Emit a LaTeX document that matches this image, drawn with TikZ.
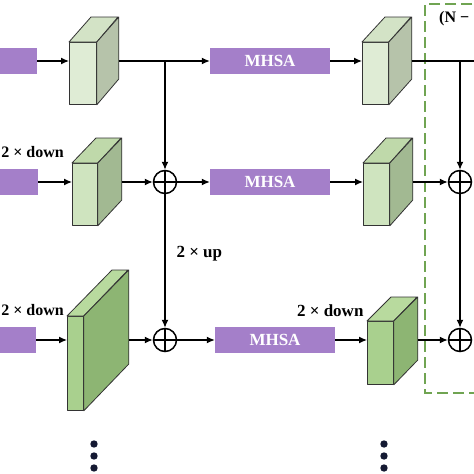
\documentclass[tikz,border=0pt]{standalone}
\usepackage{fontspec}
\setmainfont{Liberation Serif}
\usetikzlibrary{arrows.meta,calc}
\definecolor{mh}{HTML}{A47FC9}
\definecolor{af}{HTML}{DFECD5}\definecolor{at}{HTML}{D3E3C6}\definecolor{as}{HTML}{B6C3AA}
\definecolor{bf}{HTML}{CFE4BF}\definecolor{bt}{HTML}{BFD9AA}\definecolor{bs}{HTML}{A2B992}
\definecolor{cf}{HTML}{A9D08E}\definecolor{ct}{HTML}{B8DA9E}\definecolor{cs}{HTML}{8DB573}
\definecolor{dg}{HTML}{70A452}
\definecolor{dotc}{HTML}{151A33}
\tikzset{
 mhsa/.style={fill=mh, minimum width=120pt, minimum height=26pt, inner sep=0pt, text=white, font=\bfseries\fontsize{17}{19}\selectfont},
 arr/.style={line width=1.2pt, -{Latex[length=8pt,width=7pt]}},
 ln/.style={line width=1.2pt},
 opl/.style={circle, draw, line width=1.5pt, minimum size=23pt, inner sep=0pt,
   path picture={\draw[line width=1.5pt] (path picture bounding box.north) -- (path picture bounding box.south) (path picture bounding box.west) -- (path picture bounding box.east);}},
 lbl/.style={font=\bfseries\fontsize{17}{19}\selectfont},
 slbl/.style={font=\bfseries\fontsize{16}{18}\selectfont},
 face/.style={draw=black!80, line width=0.8pt, line join=round},
 dsh/.style={draw=dg, line width=1.3pt, dash pattern=on 11pt off 5pt},
}
% name, x1, y1, w, h, dx, dy, colour prefix, row y
\newcommand\cuboid[9]{%
 \node[face, fill=#8f, anchor=north west, minimum width=#4pt, minimum height=#5pt, inner sep=0pt] (#1) at (#2,#3) {};
 \draw[face, fill=#8t] (#1.north west) -- ++(#6,#7) -- ++(#4,0) -- (#1.north east) -- cycle;
 \draw[face, fill=#8s] (#1.north east) -- ++(#6,#7) -- ++(0,#5) -- (#1.south east) -- cycle;
 \path (#1.north east) ++(#6,0) coordinate (#1tmp);
 \coordinate (#1o) at (#1tmp |- 0,#9);
}
\begin{document}
\begin{tikzpicture}[x=1pt,y=-1pt]
\useasboundingbox (0,0) rectangle (474,474);
\clip (0,0) rectangle (474,474);
\fill[white] (0,0) rectangle (474,474);

% dashed frame
\draw[dsh] (504,4) -- (425,4) -- (425,393) -- (504,393);
\node[slbl, anchor=west, inner sep=1pt] (nlab) at (438,19) {(N −};

% left purple blocks (cropped at the edge)
\node[mhsa] (L1) at (-23,61) {};
\node[mhsa] (L2) at (-22,182) {};
\node[mhsa] (L3) at (-24,340) {};

% cuboids
\cuboid{B1}{69}{42}{27}{62}{22}{-25}{a}{61}
\cuboid{B2}{72}{163}{25}{62}{24}{-25}{b}{182}
\cuboid{B3}{67}{316}{16}{94}{45}{-46}{c}{340}
\cuboid{B4}{362}{42}{26}{62}{23}{-25}{a}{61}
\cuboid{B5}{363}{163}{26}{62}{23}{-25}{b}{182}
\cuboid{B6}{367}{321}{26}{63}{24}{-24}{c}{340}

% MHSA
\node[mhsa] (M1) at (270,61) {MHSA};
\node[mhsa] (M2) at (270,182) {MHSA};
\node[mhsa] (M3) at (275,340) {MHSA};

% oplus
\node[opl] (O1) at (165,182) {};
\node[opl] (O2) at (165,340) {};
\node[opl] (O3) at (460,182) {};
\node[opl] (O4) at (460,340) {};

\coordinate (J1) at (165,61);
\coordinate (J2) at (460,61);
\coordinate (E1) at (474,61);

% labels
\node[slbl, anchor=east, inner sep=1pt] (d1) at (65,152) {2 × down};
\node[slbl, anchor=east, inner sep=1pt] (d2) at (65,310) {2 × down};
\node[lbl, anchor=east] (d3) at (367,311) {2 × down};
\node[lbl, anchor=west] (u1) at (173,254) {2 × up};

% connectors
\draw[arr] (L1.east) -- (B1.west |- L1.east);
\draw[arr] (L2.east) -- (B2.west |- L2.east);
\draw[arr] (L3.east) -- (B3.west |- L3.east);
\draw[arr] (B1o) -- (M1.west);
\draw[arr] (J1) -- (O1.north);
\draw[arr] (B2o) -- (O1.west);
\draw[arr] (O1.east) -- (M2.west);
\draw[arr] (O1.south) -- (O2.north);
\draw[arr] (B3o) -- (O2.west);
\draw[arr] (O2.east) -- (M3.west);
\draw[arr] (M1.east) -- (B4.west |- M1.east);
\draw[arr] (M2.east) -- (B5.west |- M2.east);
\draw[arr] (M3.east) -- (B6.west |- M3.east);
\draw[ln] (B4o) -- (E1);
\draw[arr] (J2) -- (O3.north);
\draw[arr] (B5o) -- (O3.west);
\draw[arr] (O3.south) -- (O4.north);
\draw[arr] (B6o) -- (O4.west);

% ellipsis dots
\foreach \yy in {444,456,468} {
  \fill[dotc] (94,\yy) circle (3.7pt);
  \fill[dotc] (384,\yy) circle (3.7pt);
}
\end{tikzpicture}
\end{document}
